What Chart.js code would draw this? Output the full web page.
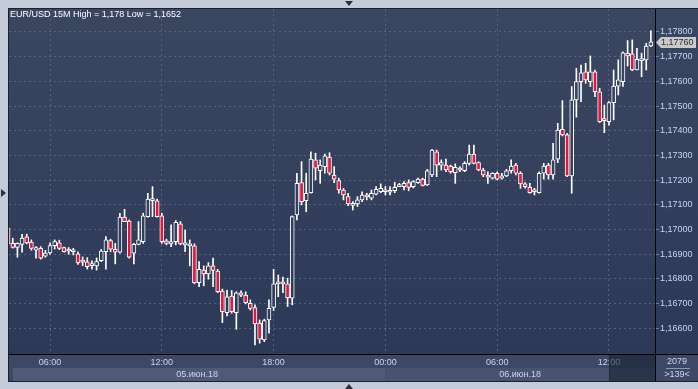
<!DOCTYPE html>
<html><head><meta charset="utf-8">
<script src="https://cdn.jsdelivr.net/npm/chart.js@4/dist/chart.umd.min.js"></script>
<style>html,body{margin:0;padding:0;background:#c3cbd9;overflow:hidden}#wrap{width:698px;height:389px}</style>
</head><body><div id="wrap"><canvas id="c" width="698" height="389"></canvas></div>
<script>
// ---- data (EUR/USD 15M) ----
const startTime = '03:45';
const barCount = 139;
const openP = [1.17006,1.16944,1.16928,1.16940,1.16970,1.16949,1.16916,1.16924,1.16892,1.16905,
1.16935,1.16946,1.16927,1.16913,1.16910,1.16902,1.16876,1.16869,1.16854,1.16853,
1.16874,1.16910,1.16955,1.16920,1.16908,1.17050,1.17034,1.16904,1.16940,1.16951,
1.17052,1.17117,1.17116,1.17055,1.16954,1.16942,1.16951,1.17023,1.16938,1.16934,
1.16934,1.16785,1.16836,1.16820,1.16853,1.16832,1.16751,1.16663,1.16731,1.16663,
1.16744,1.16735,1.16701,1.16684,1.16621,1.16553,1.16634,1.16685,1.16780,1.16788,
1.16780,1.16722,1.17059,1.17190,1.17117,1.17149,1.17282,1.17238,1.17255,1.17293,
1.17221,1.17198,1.17160,1.17133,1.17098,1.17104,1.17120,1.17137,1.17127,1.17143,
1.17153,1.17160,1.17151,1.17157,1.17174,1.17174,1.17190,1.17174,1.17190,1.17204,
1.17181,1.17221,1.17315,1.17261,1.17261,1.17257,1.17230,1.17248,1.17238,1.17268,
1.17306,1.17271,1.17241,1.17221,1.17208,1.17228,1.17208,1.17217,1.17238,1.17261,
1.17228,1.17185,1.17171,1.17153,1.17149,1.17228,1.17261,1.17221,1.17285,1.17406,
1.17383,1.17217,1.17525,1.17599,1.17639,1.17599,1.17639,1.17558,1.17447,1.17437,
1.17514,1.17581,1.17599,1.17714,1.17711,1.17646,1.17684,1.17687,1.17743];
const highP = [1.17015,1.16965,1.16946,1.16981,1.16981,1.16958,1.16931,1.16931,1.16916,1.16946,
1.16958,1.16957,1.16929,1.16927,1.16924,1.16910,1.16889,1.16886,1.16873,1.16885,
1.16920,1.16971,1.16961,1.16944,1.17066,1.17082,1.17039,1.16944,1.17032,1.17066,
1.17147,1.17174,1.17123,1.17066,1.16961,1.17019,1.17036,1.17032,1.16998,1.16958,
1.16942,1.16870,1.16853,1.16866,1.16884,1.16839,1.16759,1.16755,1.16753,1.16748,
1.16752,1.16748,1.16715,1.16695,1.16634,1.16637,1.16715,1.16839,1.16816,1.16807,
1.16803,1.17055,1.17228,1.17275,1.17228,1.17315,1.17309,1.17282,1.17306,1.17311,
1.17255,1.17208,1.17167,1.17147,1.17113,1.17133,1.17153,1.17147,1.17160,1.17174,
1.17185,1.17174,1.17174,1.17191,1.17187,1.17194,1.17201,1.17198,1.17208,1.17208,
1.17244,1.17325,1.17322,1.17282,1.17285,1.17261,1.17266,1.17255,1.17275,1.17342,
1.17342,1.17275,1.17248,1.17234,1.17230,1.17234,1.17228,1.17244,1.17282,1.17268,
1.17234,1.17190,1.17187,1.17167,1.17234,1.17268,1.17268,1.17349,1.17430,1.17522,
1.17390,1.17579,1.17653,1.17666,1.17673,1.17703,1.17646,1.17572,1.17504,1.17518,
1.17646,1.17687,1.17720,1.17765,1.17768,1.17734,1.17714,1.17754,1.17805];
const lowP = [1.16942,1.16925,1.16888,1.16908,1.16942,1.16916,1.16884,1.16880,1.16888,1.16900,
1.16921,1.16919,1.16908,1.16900,1.16897,1.16859,1.16854,1.16840,1.16840,1.16836,
1.16870,1.16839,1.16910,1.16861,1.16904,1.17032,1.16884,1.16861,1.16938,1.16944,
1.17050,1.17052,1.17050,1.16944,1.16938,1.16931,1.16938,1.16938,1.16910,1.16853,
1.16780,1.16769,1.16772,1.16799,1.16769,1.16744,1.16623,1.16650,1.16661,1.16596,
1.16728,1.16699,1.16674,1.16533,1.16540,1.16546,1.16580,1.16672,1.16728,1.16744,
1.16688,1.16695,1.17039,1.17100,1.17072,1.17147,1.17201,1.17187,1.17228,1.17221,
1.17190,1.17147,1.17120,1.17097,1.17079,1.17093,1.17113,1.17120,1.17120,1.17140,
1.17149,1.17140,1.17140,1.17149,1.17174,1.17160,1.17157,1.17168,1.17187,1.17176,
1.17178,1.17214,1.17214,1.17241,1.17234,1.17228,1.17187,1.17234,1.17234,1.17261,
1.17266,1.17238,1.17214,1.17187,1.17204,1.17201,1.17204,1.17214,1.17228,1.17221,
1.17167,1.17167,1.17147,1.17140,1.17147,1.17204,1.17204,1.17204,1.17271,1.17379,
1.17214,1.17147,1.17455,1.17518,1.17592,1.17579,1.17538,1.17433,1.17392,1.17423,
1.17444,1.17545,1.17579,1.17662,1.17643,1.17646,1.17619,1.17646,1.17740];
const closeP = [1.16942,1.16928,1.16944,1.16965,1.16946,1.16924,1.16927,1.16884,1.16905,1.16935,
1.16951,1.16924,1.16910,1.16919,1.16916,1.16865,1.16868,1.16850,1.16859,1.16870,
1.16913,1.16958,1.16920,1.16908,1.17050,1.17032,1.16888,1.16940,1.16958,1.17055,
1.17123,1.17123,1.17052,1.16951,1.16944,1.16951,1.17029,1.16942,1.16944,1.16942,
1.16785,1.16839,1.16820,1.16853,1.16834,1.16748,1.16667,1.16728,1.16667,1.16744,
1.16734,1.16704,1.16681,1.16618,1.16556,1.16631,1.16681,1.16780,1.16788,1.16780,
1.16724,1.17052,1.17187,1.17113,1.17147,1.17285,1.17248,1.17261,1.17298,1.17228,
1.17204,1.17160,1.17140,1.17104,1.17102,1.17120,1.17140,1.17132,1.17147,1.17163,
1.17167,1.17153,1.17157,1.17171,1.17178,1.17187,1.17171,1.17194,1.17204,1.17179,
1.17238,1.17322,1.17261,1.17271,1.17241,1.17234,1.17252,1.17241,1.17268,1.17306,
1.17268,1.17241,1.17221,1.17212,1.17228,1.17204,1.17217,1.17238,1.17257,1.17228,
1.17185,1.17174,1.17149,1.17160,1.17228,1.17257,1.17221,1.17282,1.17403,1.17383,
1.17217,1.17525,1.17599,1.17635,1.17606,1.17639,1.17558,1.17437,1.17441,1.17514,
1.17581,1.17606,1.17716,1.17703,1.17646,1.17689,1.17689,1.17743,1.17760];
const timeTickLabels = ['00:00','06:00','12:00','18:00'];
const yTickValues = [1.166,1.167,1.168,1.169,1.170,1.171,1.172,1.173,1.174,1.175,1.176,1.177,1.178];
const yMin = 1.16496, yMax = 1.17893;
const dayLabels = ['05.июн.18','06.июн.18'];
const titleText = 'EUR/USD 15M High = 1,178 Low = 1,1652';
const volumeText = '2079';
const countText = '>139<';

// time categories (15-minute steps)
const categories = [];
{ const [h0,m0] = startTime.split(':').map(Number); let m = h0*60+m0;
  for (let i=0;i<barCount;i++){ const mm=(m+15*i)%1440; categories.push(String(Math.floor(mm/60)).padStart(2,'0')+':'+String(mm%60).padStart(2,'0')); } }
const tickIdx = categories.map((t,i)=>timeTickLabels.includes(t)?i:-1).filter(i=>i>=0);
const dayBreak = categories.indexOf('00:00');

const FONT = "'Liberation Sans', Arial, sans-serif";
const canvas = document.getElementById('c');
const cctx = canvas.getContext('2d');
const plotGrad = cctx.createLinearGradient(0,9,0,354);
plotGrad.addColorStop(0,'#3b4661'); plotGrad.addColorStop(1,'#2c3957');

const fmt = v => v.toFixed(5).replace('.', ',');

const deco = {
  id:'deco',
  beforeDraw(chart){
    const c = chart.ctx, W=698;
    c.save();
    c.fillStyle='#c3cbd9'; c.fillRect(0,0,W,389);
    c.fillStyle='#1a2030'; c.fillRect(8,8,W-8,374);
    c.fillStyle=plotGrad; c.fillRect(9,9,W-9,345);
    c.fillStyle='#3d4964'; c.fillRect(9,355,W-9,26);
    const xb = chart.scales.x.getPixelForValue(dayBreak);
    c.fillStyle='#4e5a76'; c.fillRect(13,368,xb-13,13);
    c.fillStyle='#47536f'; c.fillRect(xb,368,655-xb,13);
    c.restore();
  },
  afterDraw(chart){
    const c = chart.ctx, x = chart.scales.x, y = chart.scales.y, W=698;
    const xb = x.getPixelForValue(dayBreak);
    c.save();
    // dark overlay on the time band right side
    const xo = x.getPixelForValue(tickIdx[tickIdx.length-1]);
    c.fillStyle='rgba(24,31,50,0.6)'; c.fillRect(xo+1,355,655-xo-1,26);
    c.fillStyle='#222a3c'; c.fillRect(Math.round(xo),355,1,26);
    // black frame lines
    c.fillStyle='#000'; c.fillRect(8,354,W-8,1); c.fillRect(655,9,1,372);
    // title
    c.font='9px '+FONT; c.fillStyle='#ffffff'; c.textBaseline='middle'; c.textAlign='left';
    c.fillText(titleText,10,15);
    // day labels
    c.fillStyle='#c8d6ee'; c.textAlign='center';
    c.fillText(dayLabels[0],(9+xb)/2,374.5);
    c.fillText(dayLabels[1],(xb+655)/2,374.5);
    // right bottom box
    c.fillText(volumeText,677,362);
    c.fillStyle='#8796b4'; c.fillRect(666,368,24,1);
    c.fillStyle='#c8d6ee'; c.fillText(countText,677,375);
    // last price tag
    const last = closeP[closeP.length-1], py = Math.round(y.getPixelForValue(last))+0.5;
    c.fillStyle='#c9c9c9';
    c.beginPath(); c.moveTo(656,py); c.lineTo(661,py-5.5); c.lineTo(696,py-5.5); c.lineTo(696,py+5.5); c.lineTo(661,py+5.5); c.closePath(); c.fill();
    c.fillStyle='#2e2e2e'; c.textAlign='left'; c.fillText(fmt(last),661,py+0.5);
    // small triangles
    c.fillStyle='#2b303c';
    c.beginPath(); c.moveTo(345,1); c.lineTo(353,1); c.lineTo(349,6); c.fill();
    c.beginPath(); c.moveTo(345,389); c.lineTo(353,389); c.lineTo(349,384); c.fill();
    c.beginPath(); c.moveTo(1,189); c.lineTo(1,197); c.lineTo(6,193); c.fill();
    c.restore();
  }
};

new Chart(canvas, {
  type:'bar',
  data:{ datasets:[
    { label:'wick', data: categories.map((_,i)=>({x:i, y:[lowP[i], highP[i]]})),
      backgroundColor:'#ffffff', borderWidth:0, barThickness:1, grouped:false, order:2, clip:0 },
    { label:'body', data: categories.map((_,i)=>({x:i, y:[openP[i], closeP[i]]})),
      backgroundColor: ctx => (closeP[ctx.dataIndex] < openP[ctx.dataIndex]) ? '#e3173e' : plotGrad,
      borderColor:'#ffffff', borderWidth:1, borderSkipped:false, barThickness:4, minBarLength:2,
      grouped:false, order:1, clip:0 }
  ]},
  options:{
    responsive:false, animation:false, devicePixelRatio:1, events:[],
    layout:{ padding:{ left:9, top:9, right:0, bottom:0 } },
    plugins:{ legend:{display:false}, tooltip:{enabled:false} },
    scales:{
      x:{ type:'linear', position:'bottom', min:0.193, max:138.88, offset:false,
        afterBuildTicks: s => { s.ticks = tickIdx.map(v=>({value:v})); },
        afterFit: s => { s.height = 35; },
        ticks:{ callback: v => categories[v] ?? '', color:'#c8d6ee', font:{family:FONT, size:9}, padding:3, maxRotation:0, autoSkip:false },
        grid:{ color:'#56637f', lineWidth:1, drawTicks:false, offset:false },
        border:{ display:false, dash:[2,3] } },
      y:{ type:'linear', position:'right', min:yMin, max:yMax,
        afterBuildTicks: s => { s.ticks = yTickValues.map(v=>({value:v})); },
        afterFit: s => { s.width = 43; },
        ticks:{ callback: v => fmt(v), color:'#c4d6f4', font:{family:FONT, size:9}, padding:1 },
        grid:{ color:'#56637f', lineWidth:1, drawTicks:true, tickLength:4, tickColor:'#5a80c0' },
        border:{ display:false, dash:[2,3] } }
    }
  },
  plugins:[deco]
});
</script></body></html>
